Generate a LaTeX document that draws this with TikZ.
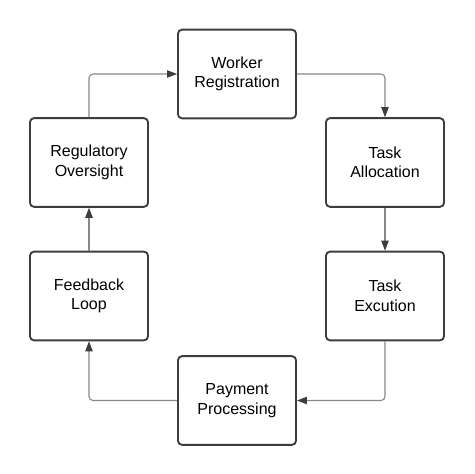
\documentclass[tikz,border=0pt]{standalone}
\usepackage{fontspec}
\setmainfont{Liberation Sans}
\usetikzlibrary{arrows.meta}
\definecolor{boxline}{HTML}{3A3D42}
\definecolor{conline}{HTML}{85878A}
\definecolor{tipcol}{HTML}{3A3D42}
\begin{document}
\begin{tikzpicture}[x=0.75pt,y=-0.75pt,
  stepbox/.style={draw=boxline,line width=1.4pt,rounded corners=3pt,fill=white,
    minimum width=88.5pt,minimum height=66.5pt,inner sep=0pt,align=center,
    font=\fontsize{12}{14.6}\selectfont},
  conn/.style={draw=conline,line width=0.8pt,rounded corners=3pt,
    -{Triangle[length=7.5pt,width=5.5pt,color=tipcol]}}]
\useasboundingbox (0,0) rectangle (474,474);
\node[stepbox] (wr) at (237,74) {Worker\\Registration};
\node[stepbox] (ro) at (89,162.5) {Regulatory\\Oversight};
\node[stepbox] (ta) at (385,162.5) {Task\\Allocation};
\node[stepbox] (fl) at (89,296) {Feedback\\Loop};
\node[stepbox] (te) at (385,296) {Task\\Excution};
\node[stepbox] (pp) at (237,400.5) {Payment\\Processing};
\draw[conn] (ro.north) |- (wr.west);
\draw[conn] (wr.east) -| (ta.north);
\draw[conn] (ta.south) -- (te.north);
\draw[conn] (te.south) |- (pp.east);
\draw[conn] (pp.west) -| (fl.south);
\draw[conn] (fl.north) -- (ro.south);
\end{tikzpicture}
\end{document}
